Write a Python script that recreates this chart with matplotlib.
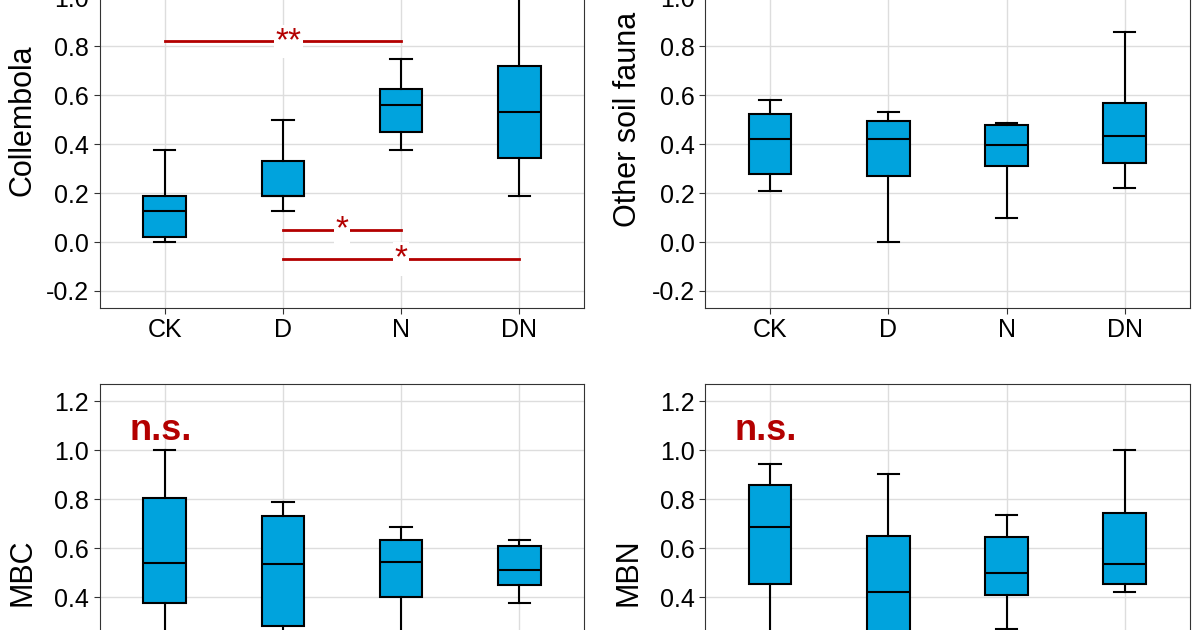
import matplotlib
matplotlib.use("Agg")
import matplotlib.pyplot as plt

plt.rcParams['font.family'] = ['Liberation Sans', 'DejaVu Sans']

groups = ["CK", "D", "N", "DN"]

# (whislo, q1, med, q3, whishi) for each group
collembola = [(0.0, 0.02, 0.125, 0.19, 0.375),
              (0.125, 0.19, 0.19, 0.33, 0.5),
              (0.375, 0.45, 0.56, 0.625, 0.75),
              (0.19, 0.345, 0.53, 0.72, 1.0)]
other_fauna = [(0.21, 0.28, 0.42, 0.525, 0.58),
               (0.0, 0.27, 0.42, 0.495, 0.53),
               (0.1, 0.31, 0.395, 0.48, 0.485),
               (0.22, 0.325, 0.435, 0.57, 0.86)]
mbc = [(0.1, 0.375, 0.54, 0.805, 1.0),
       (0.05, 0.28, 0.535, 0.73, 0.79),
       (0.2, 0.4, 0.545, 0.635, 0.685),
       (0.375, 0.45, 0.51, 0.61, 0.635)]
mbn = [(0.1, 0.455, 0.685, 0.86, 0.945),
       (0.0, 0.2, 0.42, 0.65, 0.905),
       (0.27, 0.41, 0.5, 0.645, 0.735),
       (0.42, 0.455, 0.535, 0.745, 1.0)]

box_color = "#00A3DD"
red = "#B30000"

fig = plt.figure(figsize=(12, 6.3), dpi=100)
w, h = 0.404, 0.598
positions = {
    "Collembola": (0.083, 0.511, collembola),
    "Other soil fauna": (0.5875, 0.511, other_fauna),
    "MBC": (0.083, -0.208, mbc),
    "MBN": (0.5875, -0.208, mbn),
}

axes = {}
for name, (x0, y0, data) in positions.items():
    ax = fig.add_axes([x0, y0, w, h])
    stats = [dict(whislo=a, q1=b, med=c, q3=d, whishi=e, fliers=[]) for a, b, c, d, e in data]
    ax.bxp(stats, positions=range(1, 5), widths=0.36, patch_artist=True, showfliers=False,
           boxprops=dict(facecolor=box_color, edgecolor="black", linewidth=1.5),
           medianprops=dict(color="black", linewidth=1.5),
           whiskerprops=dict(color="black", linewidth=1.5),
           capprops=dict(color="black", linewidth=1.5))
    ax.set_xlim(0.45, 4.55)
    ax.set_ylim(-0.27, 1.27)
    ax.set_yticks([-0.2, 0.0, 0.2, 0.4, 0.6, 0.8, 1.0, 1.2])
    ax.set_yticklabels(["-0.2", "0.0", "0.2", "0.4", "0.6", "0.8", "1.0", "1.2"])
    ax.set_xticks(range(1, 5))
    ax.set_xticklabels(groups)
    ax.tick_params(labelsize=18, length=4, color="#333333")
    ax.grid(True, color="#DDDDDD", linewidth=1)
    ax.set_axisbelow(True)
    for s in ax.spines.values():
        s.set_color("#333333")
    ax.set_ylabel(name, fontsize=22, labelpad=6)
    axes[name] = ax

# significance annotations
ax = axes["Collembola"]
bbox = dict(facecolor="white", edgecolor="none", pad=1)
ax.plot([1, 3], [0.82, 0.82], color=red, lw=2)
ax.text(2.05, 0.82, "**", color=red, fontsize=24, ha="center", va="center", bbox=bbox)
ax.plot([2, 3], [0.05, 0.05], color=red, lw=2)
ax.text(2.5, 0.05, "*", color=red, fontsize=24, ha="center", va="center", bbox=bbox)
ax.plot([2, 4], [-0.07, -0.07], color=red, lw=2)
ax.text(3.0, -0.07, "*", color=red, fontsize=24, ha="center", va="center", bbox=bbox)

axes["Other soil fauna"].text(3.0, 1.03, "*", color="#E8201A", fontsize=24, ha="center", va="center")

for name in ["MBC", "MBN"]:
    axes[name].text(0.7, 1.08, "n.s.", color=red, fontsize=26, fontweight="bold", ha="left", va="center")

fig.savefig("out.png", dpi=100)
